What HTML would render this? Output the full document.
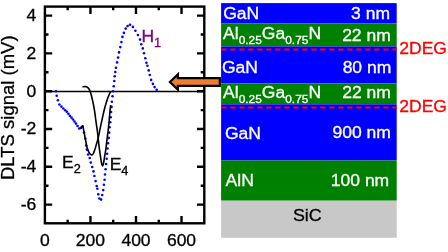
<!DOCTYPE html>
<html><head><meta charset="utf-8"><title>DLTS</title>
<style>html,body{margin:0;padding:0;background:#fff;overflow:hidden}svg{display:block}</style></head>
<body>
<svg width="448" height="252" viewBox="0 0 448 252" style="display:block">
<rect width="448" height="252" fill="#fff"/>
<rect x="221.1" y="3.1" width="175.6" height="20.4" fill="#0000ff"/>
<rect x="221.1" y="23.5" width="175.6" height="22.9" fill="#008000"/>
<rect x="221.1" y="46.4" width="175.6" height="37.0" fill="#0000ff"/>
<rect x="221.1" y="83.4" width="175.6" height="20.9" fill="#008000"/>
<rect x="221.1" y="104.3" width="175.6" height="56.2" fill="#0000ff"/>
<rect x="221.1" y="160.5" width="175.6" height="40.2" fill="#008000"/>
<rect x="221.1" y="200.7" width="175.6" height="37.1" fill="#c8c8c8"/>
<line x1="221.1" y1="49.6" x2="396.7" y2="49.6" stroke="#ff0000" stroke-width="2" stroke-dasharray="5.2 3.8" stroke-dashoffset="-0.2"/>
<line x1="221.1" y1="107.4" x2="396.7" y2="107.4" stroke="#ff0000" stroke-width="2" stroke-dasharray="5.2 3.8" stroke-dashoffset="-0.2"/>
<g stroke="#000" stroke-width="2.4" fill="none" stroke-linecap="butt">
<rect x="44.9" y="6.6" width="159.4" height="216.7"/>
<path d="M67.67 223.3v-3.6M67.67 6.6v3.6"/>
<path d="M90.44 223.3v-7.3M90.44 6.6v7.3"/>
<path d="M113.21 223.3v-3.6M113.21 6.6v3.6"/>
<path d="M135.99 223.3v-7.3M135.99 6.6v7.3"/>
<path d="M158.76 223.3v-3.6M158.76 6.6v3.6"/>
<path d="M181.53 223.3v-7.3M181.53 6.6v7.3"/>
<path d="M44.9 204.60h7.3M204.3 204.60h-7.3"/>
<path d="M44.9 185.70h3.6M204.3 185.70h-3.6"/>
<path d="M44.9 166.80h7.3M204.3 166.80h-7.3"/>
<path d="M44.9 147.90h3.6M204.3 147.90h-3.6"/>
<path d="M44.9 129.00h7.3M204.3 129.00h-7.3"/>
<path d="M44.9 110.10h3.6M204.3 110.10h-3.6"/>
<path d="M44.9 91.20h7.3M204.3 91.20h-7.3"/>
<path d="M44.9 72.30h3.6M204.3 72.30h-3.6"/>
<path d="M44.9 53.40h7.3M204.3 53.40h-7.3"/>
<path d="M44.9 34.50h3.6M204.3 34.50h-3.6"/>
<path d="M44.9 15.60h7.3M204.3 15.60h-7.3"/>
</g>
<line x1="44.9" y1="91.4" x2="204.3" y2="91.4" stroke="#000" stroke-width="1.5"/>
<g fill="#0000ff">
<circle cx="56" cy="91.3" r="1.3"/>
<circle cx="56.7" cy="95.7" r="1.3"/>
<circle cx="57.9" cy="100.3" r="1.3"/>
<circle cx="59.4" cy="104.5" r="1.3"/>
<circle cx="61.4" cy="106.6" r="1.3"/>
<circle cx="63.3" cy="108.5" r="1.3"/>
<circle cx="65.2" cy="110.2" r="1.3"/>
<circle cx="66.8" cy="111.8" r="1.3"/>
<circle cx="68.4" cy="113.8" r="1.3"/>
<circle cx="69.9" cy="115.7" r="1.3"/>
<circle cx="71.5" cy="117.6" r="1.3"/>
<circle cx="73" cy="119.5" r="1.3"/>
<circle cx="74.5" cy="121.6" r="1.3"/>
<circle cx="76" cy="123.6" r="1.3"/>
<circle cx="77.5" cy="126" r="1.3"/>
<circle cx="79.2" cy="128.5" r="1.3"/>
<circle cx="80.8" cy="127.9" r="1.3"/>
<circle cx="82.5" cy="126.6" r="1.3"/>
<circle cx="84.0" cy="132.5" r="1.3"/>
<circle cx="85.3" cy="138.6" r="1.3"/>
<circle cx="86.2" cy="145.5" r="1.3"/>
<circle cx="86.9" cy="149.6" r="1.3"/>
<circle cx="88.1" cy="154.5" r="1.3"/>
<circle cx="89.7" cy="158" r="1.3"/>
<circle cx="90.8" cy="162.6" r="1.3"/>
<circle cx="92.2" cy="167" r="1.3"/>
<circle cx="93.5" cy="171.4" r="1.3"/>
<circle cx="94.4" cy="176" r="1.3"/>
<circle cx="95.6" cy="181.1" r="1.3"/>
<circle cx="96.7" cy="186" r="1.3"/>
<circle cx="97.4" cy="188.8" r="1.3"/>
<circle cx="98.3" cy="194.3" r="1.3"/>
<circle cx="99.4" cy="198.5" r="1.3"/>
<circle cx="101.1" cy="199.6" r="1.3"/>
<circle cx="102.2" cy="195" r="1.3"/>
<circle cx="103.2" cy="190.1" r="1.3"/>
<circle cx="103.9" cy="184.8" r="1.3"/>
<circle cx="104.6" cy="179.7" r="1.3"/>
<circle cx="105" cy="174.5" r="1.3"/>
<circle cx="105.6" cy="169.2" r="1.3"/>
<circle cx="106.1" cy="164" r="1.3"/>
<circle cx="106.7" cy="158.8" r="1.3"/>
<circle cx="107.1" cy="153.7" r="1.3"/>
<circle cx="107.5" cy="148.5" r="1.3"/>
<circle cx="108" cy="143.3" r="1.3"/>
<circle cx="108.7" cy="137.9" r="1.3"/>
<circle cx="109.2" cy="132.6" r="1.3"/>
<circle cx="109.6" cy="127.2" r="1.3"/>
<circle cx="110.2" cy="122.2" r="1.3"/>
<circle cx="110.7" cy="117.2" r="1.3"/>
<circle cx="111.1" cy="112" r="1.3"/>
<circle cx="111.5" cy="106.9" r="1.3"/>
<circle cx="111.9" cy="101.7" r="1.3"/>
<circle cx="112.5" cy="96.3" r="1.3"/>
<circle cx="113" cy="91.2" r="1.3"/>
<circle cx="113.7" cy="86.2" r="1.3"/>
<circle cx="114.3" cy="81" r="1.3"/>
<circle cx="114.7" cy="76.3" r="1.3"/>
<circle cx="115.3" cy="72" r="1.3"/>
<circle cx="116" cy="67.7" r="1.3"/>
<circle cx="117.1" cy="62.4" r="1.3"/>
<circle cx="118.1" cy="57.6" r="1.3"/>
<circle cx="119" cy="52.4" r="1.3"/>
<circle cx="120.3" cy="47.1" r="1.3"/>
<circle cx="121.4" cy="42.1" r="1.3"/>
<circle cx="122.4" cy="36.9" r="1.3"/>
<circle cx="123.9" cy="32.9" r="1.3"/>
<circle cx="125.7" cy="28.6" r="1.3"/>
<circle cx="127.6" cy="26" r="1.3"/>
<circle cx="130" cy="24.7" r="1.3"/>
<circle cx="132.9" cy="26.9" r="1.3"/>
<circle cx="135.4" cy="30.7" r="1.3"/>
<circle cx="137.9" cy="35" r="1.3"/>
<circle cx="140" cy="39.6" r="1.3"/>
<circle cx="141.3" cy="44.2" r="1.3"/>
<circle cx="142.8" cy="48.4" r="1.3"/>
<circle cx="144" cy="53.3" r="1.3"/>
<circle cx="145.3" cy="58.3" r="1.3"/>
<circle cx="146.4" cy="62.7" r="1.3"/>
<circle cx="147.4" cy="65.7" r="1.3"/>
<circle cx="148.7" cy="70.4" r="1.3"/>
<circle cx="149.8" cy="75" r="1.3"/>
<circle cx="151.1" cy="79.9" r="1.3"/>
<circle cx="152.9" cy="83.9" r="1.3"/>
<circle cx="154.6" cy="87.1" r="1.3"/>
<circle cx="156.7" cy="89.7" r="1.3"/>
</g>
<path d="M80.7 128.1 L82.8 125.9  C83.03 127.05 83.73 130.40 84.2 132.8 C84.67 135.20 85.15 137.97 85.6 140.3 C86.05 142.63 86.40 144.90 86.9 146.8 C87.40 148.70 88.02 150.47 88.6 151.7 C89.18 152.93 89.87 153.67 90.4 154.2 C90.93 154.73 91.33 154.97 91.8 154.9 C92.27 154.83 92.73 154.57 93.2 153.8 C93.67 153.03 94.12 151.68 94.6 150.3 C95.08 148.92 95.68 146.88 96.1 145.5 C96.52 144.12 96.77 143.18 97.1 142 C97.43 140.82 97.60 140.62 98.1 138.4 C98.60 136.18 99.47 131.72 100.1 128.7 C100.73 125.68 101.32 122.98 101.9 120.3 C102.48 117.62 103.08 114.82 103.6 112.6 C104.12 110.38 104.42 109.08 105 107 C105.58 104.92 106.40 102.18 107.1 100.1 C107.80 98.02 108.58 95.95 109.2 94.5 C109.82 93.05 110.53 91.92 110.8 91.4" fill="none" stroke="#000" stroke-width="1.6" stroke-linejoin="round"/>
<path d="M82.5 86.9 C83.02 86.85 84.67 86.45 85.6 86.6 C86.53 86.75 87.42 87.18 88.1 87.8 C88.78 88.42 89.20 89.18 89.7 90.3 C90.20 91.42 90.63 92.87 91.1 94.5 C91.57 96.13 92.03 98.02 92.5 100.1 C92.97 102.18 93.48 104.70 93.9 107 C94.32 109.30 94.65 111.45 95 113.9 C95.35 116.35 95.60 118.78 96 121.7 C96.40 124.62 97.00 128.27 97.4 131.4 C97.80 134.53 98.07 137.58 98.4 140.5 C98.73 143.42 99.03 146.10 99.4 148.9 C99.77 151.70 100.25 154.98 100.6 157.3 C100.95 159.62 101.17 161.37 101.5 162.8 C101.83 164.23 102.25 165.90 102.6 165.9 C102.95 165.90 103.25 164.47 103.6 162.8 C103.95 161.13 104.32 158.22 104.7 155.9 C105.08 153.58 105.57 151.22 105.9 148.9 C106.23 146.58 106.47 143.98 106.7 142 C106.93 140.02 107.05 138.98 107.3 137 C107.55 135.02 107.88 132.88 108.2 130.1 C108.52 127.32 108.92 123.32 109.2 120.3 C109.48 117.28 109.65 114.52 109.9 112 C110.15 109.48 110.57 106.33 110.7 105.2" fill="none" stroke="#000" stroke-width="1.6" stroke-linejoin="round"/>
<path d="M169.9 82 L177.9 74.4 V78.1 H219.8 V85.85 H177.9 V89.6 Z" fill="#ed7d31" stroke="#000" stroke-width="2.2" stroke-linejoin="miter"/>
<g font-family="'Liberation Sans', Arial, sans-serif" font-size="16.0" color="#000" fill="currentColor" stroke="currentColor" stroke-width="0.3">
<text transform="translate(36.3 20.9) scale(1.095 1)" text-anchor="end">4</text>
<text transform="translate(36.3 58.7) scale(1.095 1)" text-anchor="end">2</text>
<text transform="translate(36.3 96.5) scale(1.095 1)" text-anchor="end">0</text>
<text transform="translate(36.3 134.3) scale(1.095 1)" text-anchor="end">-2</text>
<text transform="translate(36.3 172.1) scale(1.095 1)" text-anchor="end">-4</text>
<text transform="translate(36.3 209.9) scale(1.095 1)" text-anchor="end">-6</text>
<text transform="translate(44.9 246.0) scale(1.095 1)" text-anchor="middle">0</text>
<text transform="translate(90.4 246.0) scale(1.095 1)" text-anchor="middle">200</text>
<text transform="translate(136.0 246.0) scale(1.095 1)" text-anchor="middle">400</text>
<text transform="translate(181.5 246.0) scale(1.095 1)" text-anchor="middle">600</text>
<text transform="translate(14.2 107.7) rotate(-90)" text-anchor="middle" font-size="18.5">DLTS signal (mV)</text>
<text transform="translate(141.4 41.7) scale(1.06 1)" font-size="16.5" color="#800080">H<tspan font-size="12" dy="5.3">1</tspan></text>
<text transform="translate(62 168.1) scale(1.06 1)" font-size="16.5">E<tspan font-size="12" dy="5.3">2</tspan></text>
<text transform="translate(109.7 170) scale(1.06 1)" font-size="16.5">E<tspan font-size="12" dy="5.3">4</tspan></text>
<g color="#fff">
<text transform="translate(223.2 19.2) scale(1.095 1)">GaN</text>
<text transform="translate(390.0 19.3) scale(1.095 1)" text-anchor="end">3 nm</text>
<text transform="translate(223.1 39.3) scale(1.095 1)">Al<tspan font-size="10.9" dy="4.9">0.25</tspan><tspan dy="-4.9">Ga</tspan><tspan font-size="10.9" dy="4.9">0.75</tspan><tspan dy="-4.9">N</tspan></text>
<text transform="translate(390.8 41.2) scale(1.095 1)" text-anchor="end">22 nm</text>
<text transform="translate(221.9 72.8) scale(1.095 1)">GaN</text>
<text transform="translate(391.3 73) scale(1.095 1)" text-anchor="end">80 nm</text>
<text transform="translate(223.1 98.1) scale(1.095 1)">Al<tspan font-size="10.9" dy="4.9">0.25</tspan><tspan dy="-4.9">Ga</tspan><tspan font-size="10.9" dy="4.9">0.75</tspan><tspan dy="-4.9">N</tspan></text>
<text transform="translate(390.9 98.4) scale(1.095 1)" text-anchor="end">22 nm</text>
<text transform="translate(225 138.7) scale(1.095 1)">GaN</text>
<text transform="translate(390.8 138.0) scale(1.095 1)" text-anchor="end">900 nm</text>
<text transform="translate(225.6 186) scale(1.095 1)">AlN</text>
<text transform="translate(389.2 185.8) scale(1.095 1)" text-anchor="end">100 nm</text>
</g>
<text transform="translate(307.3 221.1) scale(1.095 1)" text-anchor="middle" font-size="16.3">SiC</text>
<text transform="translate(399.3 54.0) scale(1.095 1)" color="#ff0000">2DEG</text>
<text transform="translate(399.3 111.7) scale(1.095 1)" color="#ff0000">2DEG</text>
</g>
</svg>
</body></html>
